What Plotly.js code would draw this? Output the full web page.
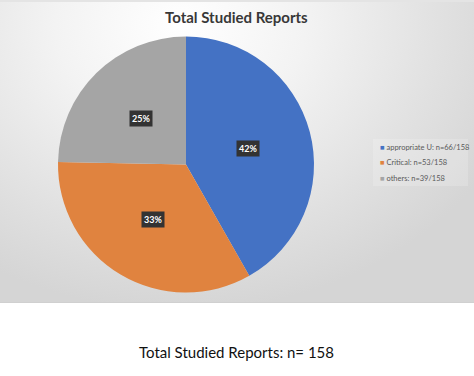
<!DOCTYPE html>
<html>
<head>
<meta charset="utf-8">
<script src="https://cdn.plot.ly/plotly-3.0.1.min.js"></script>
<style>
  html, body { margin: 0; padding: 0; background: #ffffff; }
  #wrap { position: relative; width: 474px; height: 376px; }
  #bg { position: absolute; left: 0; top: 2px; width: 474px; height: 300px;
        background: radial-gradient(ellipse 75% 95% at 38% 8%, #ffffff 0%, #f3f3f3 35%, #e0e0e0 75%, #d5d5d5 100%);
        border-bottom: 1px solid #d0d0d0; }
  #topline { position: absolute; left: 0; top: 0; width: 474px; height: 2px; background: #e4e4e4; }
  #chart { position: absolute; left: 0; top: 0; width: 474px; height: 376px; }
</style>
</head>
<body>
<div id="wrap">
  <div id="topline"></div>
  <div id="bg"></div>
  <div id="chart"></div>
</div>
<script>
const categories = ['appropriate U: n=66/158', 'Critical: n=53/158', 'others: n=39/158'];
const values = [66, 53, 39];
const pctLabels = ['42%', '33%', '25%'];
const colors = ['#4472C4', '#E0833F', '#A5A5A5'];

const W = 474, H = 376;
// pie geometry (pixels)
const cx = 186, cy = 164.5, R = 128;
const domX = [(cx - R) / W, (cx + R) / W];
const domY = [(H - (cy + R)) / H, (H - (cy - R)) / H];

const total = values.reduce((a, b) => a + b, 0);
const annotations = [];
let acc = 0;
values.forEach((v, i) => {
  const mid = (acc + v / 2) / total * 2 * Math.PI;
  acc += v;
  const px = cx + 0.5 * R * Math.sin(mid);
  const py = cy - 0.5 * R * Math.cos(mid);
  annotations.push({
    xref: 'paper', yref: 'paper', x: px / W, y: (H - py) / H,
    text: '<b>' + pctLabels[i] + '</b>', showarrow: false,
    font: { family: 'Lato, "Open Sans", sans-serif', size: 9, color: '#ffffff' },
    bgcolor: '#333333', borderpad: 2, xanchor: 'center', yanchor: 'middle'
  });
});

// manual legend
const legX = 378, legY0 = 148, legDy = 15;
categories.forEach((c, i) => {
  annotations.push({
    xref: 'paper', yref: 'paper', x: legX / W, y: (H - (legY0 + i * legDy)) / H,
    text: '<span style="color:' + colors[i] + '">■</span> ' + c,
    showarrow: false, xanchor: 'left', yanchor: 'middle',
    font: { family: 'Lato, "Open Sans", sans-serif', size: 7.5, color: '#595959' }
  });
});

// title and bottom caption
annotations.push({
  xref: 'paper', yref: 'paper', x: 236 / W, y: (H - 17) / H,
  text: '<b>Total Studied Reports</b>', showarrow: false,
  xanchor: 'center', yanchor: 'middle',
  font: { family: 'Lato, "Open Sans", sans-serif', size: 15, color: '#383838' }
});
annotations.push({
  xref: 'paper', yref: 'paper', x: 236 / W, y: (H - 352) / H,
  text: 'Total Studied Reports: n= 158', showarrow: false,
  xanchor: 'center', yanchor: 'middle',
  font: { family: 'Lato, "Open Sans", sans-serif', size: 15, color: '#111111' }
});

const data = [{
  type: 'pie',
  labels: categories,
  values: values,
  marker: { colors: colors, line: { color: '#ffffff', width: 0 } },
  sort: false,
  direction: 'clockwise',
  rotation: 0,
  textinfo: 'none',
  hoverinfo: 'none',
  domain: { x: domX, y: domY },
  showlegend: false
}];

const layout = {
  width: W, height: H,
  margin: { l: 0, r: 0, t: 0, b: 0 },
  paper_bgcolor: 'rgba(0,0,0,0)',
  plot_bgcolor: 'rgba(0,0,0,0)',
  showlegend: false,
  annotations: annotations,
  shapes: [{
    type: 'rect', xref: 'paper', yref: 'paper',
    x0: 373 / W, x1: 468 / W, y0: (H - 186) / H, y1: (H - 139) / H,
    fillcolor: 'rgba(255,255,255,0.18)', line: { width: 0 }, layer: 'below'
  }]
};

Plotly.newPlot('chart', data, layout, { staticPlot: true, displayModeBar: false });
</script>
</body>
</html>
